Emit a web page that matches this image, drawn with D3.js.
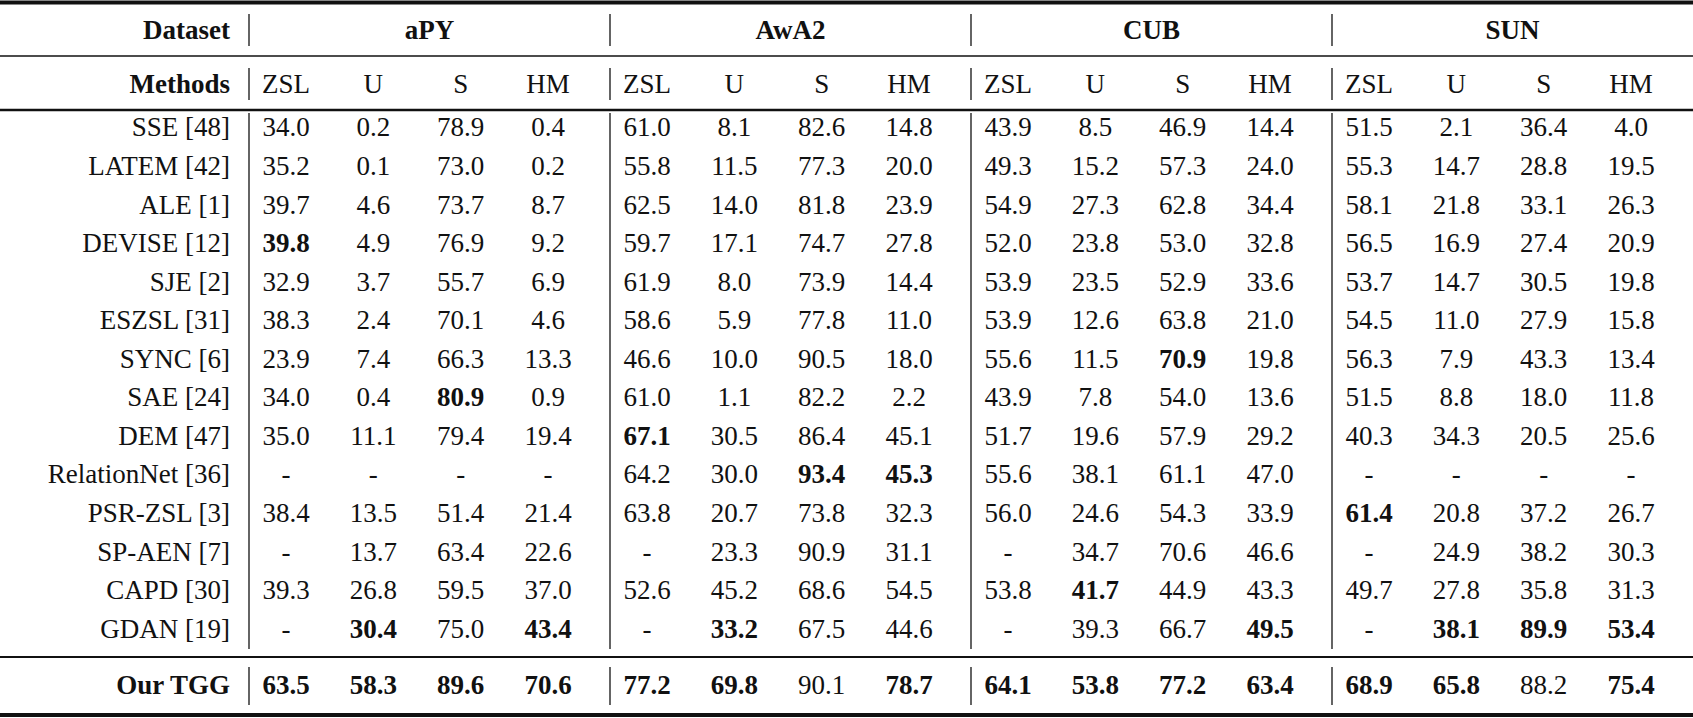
<!DOCTYPE html>
<html><head><meta charset="utf-8">
<script src="https://cdn.jsdelivr.net/npm/d3@7"></script>
<style>body{margin:0;background:#fff}</style>
</head><body><svg id="chart"></svg>
<script>
const datasets = ["aPY", "AwA2", "CUB", "SUN"];
const metrics = ["ZSL", "U", "S", "HM"];
const methods = ["SSE [48]", "LATEM [42]", "ALE [1]", "DEVISE [12]", "SJE [2]", "ESZSL [31]", "SYNC [6]", "SAE [24]", "DEM [47]", "RelationNet [36]", "PSR-ZSL [3]", "SP-AEN [7]", "CAPD [30]", "GDAN [19]"];
const values = [
  ["34.0","0.2","78.9","0.4","61.0","8.1","82.6","14.8","43.9","8.5","46.9","14.4","51.5","2.1","36.4","4.0"],
  ["35.2","0.1","73.0","0.2","55.8","11.5","77.3","20.0","49.3","15.2","57.3","24.0","55.3","14.7","28.8","19.5"],
  ["39.7","4.6","73.7","8.7","62.5","14.0","81.8","23.9","54.9","27.3","62.8","34.4","58.1","21.8","33.1","26.3"],
  ["*39.8","4.9","76.9","9.2","59.7","17.1","74.7","27.8","52.0","23.8","53.0","32.8","56.5","16.9","27.4","20.9"],
  ["32.9","3.7","55.7","6.9","61.9","8.0","73.9","14.4","53.9","23.5","52.9","33.6","53.7","14.7","30.5","19.8"],
  ["38.3","2.4","70.1","4.6","58.6","5.9","77.8","11.0","53.9","12.6","63.8","21.0","54.5","11.0","27.9","15.8"],
  ["23.9","7.4","66.3","13.3","46.6","10.0","90.5","18.0","55.6","11.5","*70.9","19.8","56.3","7.9","43.3","13.4"],
  ["34.0","0.4","*80.9","0.9","61.0","1.1","82.2","2.2","43.9","7.8","54.0","13.6","51.5","8.8","18.0","11.8"],
  ["35.0","11.1","79.4","19.4","*67.1","30.5","86.4","45.1","51.7","19.6","57.9","29.2","40.3","34.3","20.5","25.6"],
  ["-","-","-","-","64.2","30.0","*93.4","*45.3","55.6","38.1","61.1","47.0","-","-","-","-"],
  ["38.4","13.5","51.4","21.4","63.8","20.7","73.8","32.3","56.0","24.6","54.3","33.9","*61.4","20.8","37.2","26.7"],
  ["-","13.7","63.4","22.6","-","23.3","90.9","31.1","-","34.7","70.6","46.6","-","24.9","38.2","30.3"],
  ["39.3","26.8","59.5","37.0","52.6","45.2","68.6","54.5","53.8","*41.7","44.9","43.3","49.7","27.8","35.8","31.3"],
  ["-","*30.4","75.0","*43.4","-","*33.2","67.5","44.6","-","39.3","66.7","*49.5","-","*38.1","*89.9","*53.4"]
];
const oursName = "Our TGG";
const ours = ["*63.5","*58.3","*89.6","*70.6","*77.2","*69.8","90.1","*78.7","*64.1","*53.8","*77.2","*63.4","*68.9","*65.8","88.2","*75.4"];

const W = 1693, H = 718, fs = 27;
const FONT = "'Liberation Serif', 'Times New Roman', 'DejaVu Serif', serif";
const svg = d3.select("#chart").attr("width", W).attr("height", H);

const groupX = d3.scaleBand().domain(datasets).range([249, 249 + 361 * 4]);
const colX = d3.scalePoint().domain(metrics).range([37, 299]);
const rowY = d3.scalePoint().domain(d3.range(methods.length)).range([127, 127 + 38.55 * 13]);

function cell(x, y, t, anchor, bold) {
  svg.append("text").attr("x", x).attr("y", y).attr("dy", "0.35em")
    .attr("text-anchor", anchor).attr("font-size", fs)
    .attr("font-family", FONT).attr("fill", "#111")
    .attr("font-weight", bold ? "bold" : "normal").text(t);
}
function val(x, y, v) {
  const b = v.startsWith("*");
  cell(x, y, b ? v.slice(1) : v, "middle", b);
}
function hline(y, w) { svg.append("line").attr("x1", 0).attr("x2", W).attr("y1", y).attr("y2", y).attr("stroke", "#111").attr("stroke-width", w); }
function vline(x, y1, y2) { svg.append("line").attr("x1", x).attr("x2", x).attr("y1", y1).attr("y2", y2).attr("stroke", "#111").attr("stroke-width", 1.3); }

// rules
hline(2.5, 4); hline(56, 1.5); hline(110, 2.5); hline(657, 1.8); hline(715, 4);

// headers
cell(230, 30, "Dataset", "end", true);
cell(230, 84, "Methods", "end", true);
datasets.forEach(d => {
  const gx = groupX(d);
  vline(gx, 14, 46); vline(gx, 68, 100); vline(gx, 113, 649); vline(gx, 667, 705);
  cell(gx + groupX.bandwidth() / 2, 30, d, "middle", true);
  metrics.forEach(m => cell(gx + colX(m), 84, m, "middle", false));
});

// body
methods.forEach((m, i) => {
  cell(230, rowY(i), m, "end", false);
  values[i].forEach((v, j) => val(groupX(datasets[Math.floor(j / 4)]) + colX(metrics[j % 4]), rowY(i), v));
});
cell(230, 685, oursName, "end", true);
ours.forEach((v, j) => val(groupX(datasets[Math.floor(j / 4)]) + colX(metrics[j % 4]), 685, v));
</script></body></html>
